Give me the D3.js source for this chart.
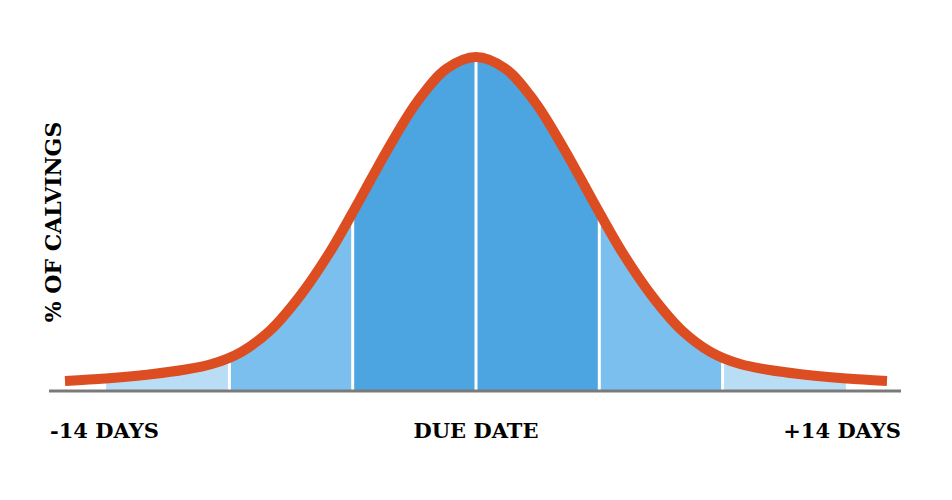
<!DOCTYPE html>
<html>
<head>
<meta charset="utf-8">
<script src="https://cdn.jsdelivr.net/npm/d3@7"></script>
<style>
  html, body { margin: 0; padding: 0; background: #fff; }
  svg { display: block; }
</style>
</head>
<body>
<svg id="chart" width="952" height="500"></svg>
<script>
// ---- data ----
const days = [-14,-13,-12,-11,-10,-9,-8,-7,-6,-5,-4,-3,-2,-1,0,1,2,3,4,5,6,7,8,9,10,11,12,13,14];
const pctCalvings = [0.27,0.32,0.39,0.48,0.60,0.78,1.14,1.80,2.82,4.11,5.65,7.24,8.66,9.65,10.0,
                     9.65,8.66,7.24,5.65,4.11,2.82,1.80,1.14,0.78,0.60,0.48,0.39,0.32,0.27];
const bandEdges = [-12.6, -8.4, -4.2, 0, 4.2, 8.4, 12.6];
const bandShade = ["light", "medium", "dark", "dark", "medium", "light"];
const xLabels = ["-14 DAYS", "DUE DATE", "+14 DAYS"];
const yLabel = "% OF CALVINGS";

// ---- drawing ----
const svg = d3.select("#chart");
const x = d3.scaleLinear().domain([-14, 14]).range([65, 887]);
const y = d3.scaleLinear().domain([0, 10]).range([390, 57]);
const shadeColor = { light: "#BADDF6", medium: "#7BBFEF", dark: "#4CA4E0" };

const pts = days.map((d, i) => ({ d, v: pctCalvings[i] }));
const lineGen = d3.line().x(p => x(p.d)).y(p => y(p.v)).curve(d3.curveCatmullRom.alpha(0.5));

const clip = svg.append("defs").append("clipPath").attr("id", "under");
clip.append("path")
  .attr("d", lineGen(pts) + `L${x(14)},${y(0)}L${x(-14)},${y(0)}Z`);

const bands = svg.append("g").attr("clip-path", "url(#under)");
for (let i = 0; i < bandEdges.length - 1; i++) {
  bands.append("rect")
    .attr("x", x(bandEdges[i]))
    .attr("y", y(10) - 10)
    .attr("width", x(bandEdges[i + 1]) - x(bandEdges[i]))
    .attr("height", y(0) - y(10) + 10)
    .attr("fill", shadeColor[bandShade[i]]);
}
// white separators
bands.selectAll("line.sep")
  .data(bandEdges.slice(1, -1))
  .enter().append("line")
  .attr("x1", d => x(d)).attr("x2", d => x(d))
  .attr("y1", y(0)).attr("y2", y(10) - 10)
  .attr("stroke", "#fff").attr("stroke-width", 3);

// baseline axis
svg.append("line")
  .attr("x1", 49).attr("x2", 901)
  .attr("y1", 391).attr("y2", 391)
  .attr("stroke", "#7a7a7a").attr("stroke-width", 3);

// curve
svg.append("path")
  .attr("d", lineGen(pts))
  .attr("fill", "none")
  .attr("stroke", "#DC4E21")
  .attr("stroke-width", 10)
  .attr("stroke-linecap", "butt");

// labels
const font = "'DejaVu Serif', serif";
const lab = svg.append("g")
  .attr("font-family", font)
  .attr("font-weight", "bold")
  .attr("font-size", 21)
  .attr("fill", "#000");
lab.append("text").attr("x", 50).attr("y", 438).attr("text-anchor", "start").text(xLabels[0]);
lab.append("text").attr("x", x(0)).attr("y", 438).attr("text-anchor", "middle").text(xLabels[1]);
lab.append("text").attr("x", 901).attr("y", 438).attr("text-anchor", "end").text(xLabels[2]);

svg.append("text")
  .attr("transform", "translate(61,222) rotate(-90)")
  .attr("text-anchor", "middle")
  .attr("font-family", font)
  .attr("font-weight", "bold")
  .attr("font-size", 22)
  .attr("fill", "#000")
  .text(yLabel);
</script>
</body>
</html>
